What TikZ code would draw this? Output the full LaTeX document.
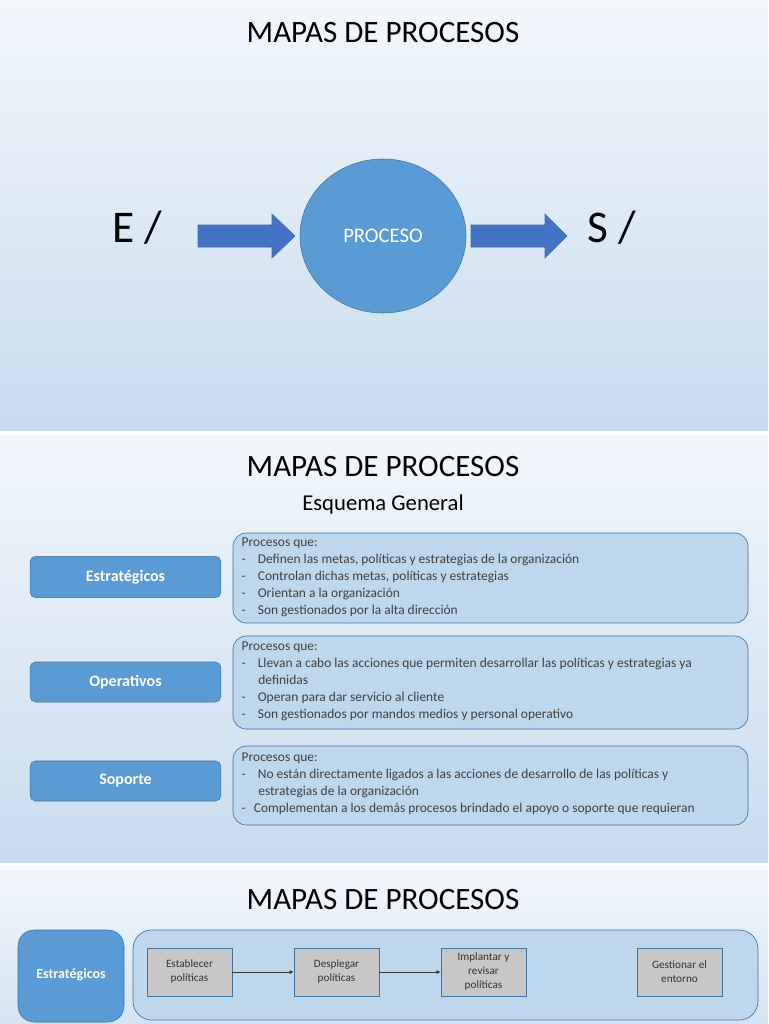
\documentclass[tikz,border=0pt]{standalone}
\usepackage{fontspec}
\setmainfont{Carlito}
\usetikzlibrary{shapes.geometric,arrows.meta}
\definecolor{bgtop}{HTML}{F2F7FC}
\definecolor{bgbot}{HTML}{C8DCEF}
\definecolor{midblue}{HTML}{5B9BD5}
\definecolor{edgeblue}{HTML}{41719C}
\definecolor{paleblue}{HTML}{BDD7EE}
\definecolor{arrowblue}{HTML}{4472C4}
\tikzset{
  title/.style={font=\fontsize{23.3}{25}\selectfont},
  catbox/.style={draw=edgeblue,fill=midblue,rounded corners=4pt,text=white,font=\fontsize{12}{14}\selectfont\bfseries,align=center},
  descbox/.style={draw=edgeblue,fill=paleblue,rounded corners=10pt,line width=0.5pt},
  desctext/.style={anchor=north west,align=left,font=\fontsize{10.1}{12.7}\selectfont,text=black!75},
  fatarrow/.style={draw=edgeblue,fill=arrowblue,line width=0.5pt},
  stepbox/.style={draw=edgeblue,fill=black!22,minimum width=64pt,minimum height=36pt,align=center,font=\fontsize{8.4}{10.5}\selectfont,text=black!80},
}
\begin{document}
\begin{tikzpicture}[x=0.75pt,y=-0.75pt]
\useasboundingbox (0,0) rectangle (768,1024);
\clip (0,0) rectangle (768,1024);
\fill[white] (0,0) rectangle (768,1024);
\shade[top color=bgtop,bottom color=bgbot] (0,0) rectangle (768,430);
\shade[top color=bgtop,bottom color=bgbot] (0,434) rectangle (768,862);
\shade[top color=bgtop,bottom color=bgbot!70!bgtop] (0,866) rectangle (768,1024);
% slide 1
\node[title] (t1) at (383,33) {MAPAS DE PROCESOS};
\node[font=\fontsize{34}{36}\selectfont] (E) at (137,228) {E /};
\node[font=\fontsize{34}{36}\selectfont] (S) at (612,228) {S /};
\node[ellipse,draw=edgeblue,fill=midblue,minimum width=124.5pt,minimum height=115.5pt,text=white,font=\fontsize{15.5}{17}\selectfont] (P) at (383,236) {PROCESO};
\draw[fatarrow] (198,225) -- (272,225) -- (272,214) -- (295,236) -- (272,258) -- (272,247) -- (198,247) -- cycle;
\draw[fatarrow] (471,225) -- (545,225) -- (545,214) -- (567,236) -- (545,258) -- (545,247) -- (471,247) -- cycle;
% slide 2
\node[title] (t2) at (383,467) {MAPAS DE PROCESOS};
\node[font=\fontsize{17}{18}\selectfont] (sub) at (383,504) {Esquema General};
\node[catbox,minimum width=143pt,minimum height=31pt] (c1) at (125.5,577) {Estratégicos};
\node[catbox,minimum width=143pt,minimum height=30pt] (c2) at (125.5,682) {Operativos};
\node[catbox,minimum width=143pt,minimum height=30pt] (c3) at (125.5,781) {Soporte};
\draw[descbox] (233,533) rectangle (748,623);
\draw[descbox] (233,636) rectangle (748,729);
\draw[descbox] (233,746) rectangle (748,825);
\node[desctext] (d1) at (237,533) {Procesos que:\\
-\hspace{9pt}Definen las metas, políticas y estrategias de la organización\\
-\hspace{9pt}Controlan dichas metas, políticas y estrategias\\
-\hspace{9pt}Orientan a la organización\\
-\hspace{9pt}Son gestionados por la alta dirección};
\node[desctext] (d2) at (237,637) {Procesos que:\\
-\hspace{9pt}Llevan a cabo las acciones que permiten desarrollar las políticas y estrategias ya\\
\hspace{12.5pt}definidas\\
-\hspace{9pt}Operan para dar servicio al cliente\\
-\hspace{9pt}Son gestionados por mandos medios y personal operativo};
\node[desctext] (d3) at (237,748) {Procesos que:\\
-\hspace{9pt}No están directamente ligados a las acciones de desarrollo de las políticas y\\
\hspace{12.5pt}estrategias de la organización\\
-\hspace{6pt}Complementan a los demás procesos brindado el apoyo o soporte que requieran};
% slide 3
\node[title] (t3) at (383,900) {MAPAS DE PROCESOS};
\draw[draw=edgeblue,fill=midblue,rounded corners=12pt] (18,930) rectangle (124,1022);
\node[text=white,font=\fontsize{10.5}{12}\selectfont\bfseries] (c4) at (71,975) {Estratégicos};
\draw[descbox,rounded corners=14pt] (133,930) rectangle (758,1020);
\node[stepbox] (s1) at (189.5,972) {Establecer\\políticas};
\node[stepbox] (s2) at (336.5,972) {Desplegar\\políticas};
\node[stepbox] (s3) at (483.5,972) {Implantar y\\revisar\\políticas};
\node[stepbox] (s4) at (679.5,972) {Gestionar el\\entorno};
\draw[-{Latex[length=3pt,width=3pt]},black!80] (s1) -- (s2);
\draw[-{Latex[length=3pt,width=3pt]},black!80] (s2) -- (s3);
\end{tikzpicture}
\end{document}
